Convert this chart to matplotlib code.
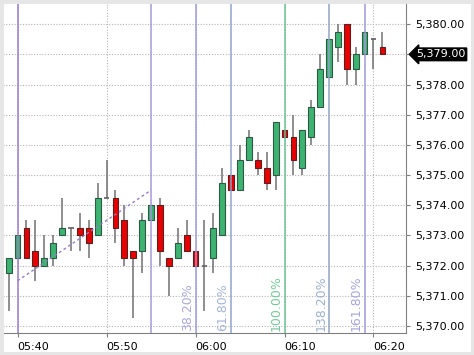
import numpy as np
import matplotlib
matplotlib.use("Agg")
import matplotlib.pyplot as plt
import matplotlib.transforms as mtransforms
from matplotlib.patches import Rectangle

# one-minute candles, 05:39 .. 06:21
times = ["05:39", "05:40", "05:41", "05:42", "05:43", "05:44", "05:45", "05:46", "05:47", "05:48",
         "05:49", "05:50", "05:51", "05:52", "05:53", "05:54", "05:55", "05:56", "05:57", "05:58",
         "05:59", "06:00", "06:01", "06:02", "06:03", "06:04", "06:05", "06:06", "06:07", "06:08",
         "06:09", "06:10", "06:11", "06:12", "06:13", "06:14", "06:15", "06:16", "06:17", "06:18",
         "06:19", "06:20", "06:21"]
opens = [5371.75, 5372.25, 5373.25, 5372.5, 5372.0, 5372.25, 5373.0, 5373.25, 5373.25, 5373.25,
         5373.0, 5374.25, 5374.25, 5373.5, 5372.5, 5372.5, 5373.5, 5374.0, 5372.25, 5372.25,
         5373.0, 5372.5, 5372.0, 5372.25, 5373.0, 5375.0, 5374.5, 5375.5, 5375.5, 5375.25,
         5375.0, 5376.5, 5376.25, 5375.25, 5376.25, 5377.25, 5378.25, 5379.25, 5380.0, 5378.5,
         5379.0, 5379.5, 5379.25]
highs = [5372.25, 5373.0, 5373.5, 5373.5, 5373.0, 5373.0, 5374.25, 5373.25, 5373.75, 5373.5,
         5374.75, 5375.5, 5374.5, 5374.0, 5372.5, 5373.75, 5374.0, 5374.25, 5372.25, 5373.25,
         5373.5, 5372.5, 5373.5, 5373.75, 5375.25, 5375.0, 5376.0, 5376.5, 5375.75, 5375.75,
         5376.75, 5376.5, 5377.0, 5376.5, 5377.5, 5379.0, 5379.5, 5380.0, 5380.0, 5379.25,
         5379.75, 5379.5, 5379.75]
lows = [5370.5, 5372.25, 5372.25, 5371.5, 5372.0, 5372.0, 5373.0, 5372.5, 5372.5, 5372.25,
        5373.0, 5374.25, 5372.75, 5372.0, 5370.25, 5371.75, 5373.5, 5372.0, 5371.0, 5372.25,
        5372.5, 5372.0, 5370.5, 5371.75, 5373.0, 5374.5, 5374.5, 5375.5, 5375.0, 5374.5,
        5374.5, 5376.25, 5375.0, 5375.0, 5376.0, 5377.25, 5378.25, 5378.75, 5378.0, 5378.0,
        5379.0, 5378.5, 5379.0]
closes = [5372.25, 5373.0, 5372.25, 5372.0, 5372.25, 5372.75, 5373.25, 5373.25, 5373.0, 5372.75,
          5374.25, 5374.25, 5373.25, 5372.25, 5372.25, 5373.5, 5374.0, 5372.5, 5372.0, 5372.75,
          5372.5, 5372.0, 5372.0, 5373.25, 5374.75, 5374.5, 5375.5, 5376.25, 5375.25, 5374.75,
          5376.75, 5376.25, 5375.5, 5376.5, 5377.25, 5378.5, 5379.5, 5379.75, 5378.5, 5379.0,
          5379.75, 5379.5, 5379.0]

# fibonacci time zones
fib_times = ["05:40", "05:55", "06:00", "06:04", "06:10", "06:15", "06:19"]
fib_labels = ["", "", "38.20%", "61.80%", "100.00%", "138.20%", "161.80%"]
fib_colors = ["#9a7cc8", "#a497d8", "#9d9ad8", "#8ea2cc", "#6cc095", "#8ea3c4", "#9c98d6"]
fib_text_colors = ["#b0a0d8", "#b0a8e0", "#a8a8dc", "#a4b4d8", "#78c89a", "#9cb0cc", "#a8a4dc"]
trend_times = ["05:40", "05:55"]
trend_prices = [5371.5, 5374.5]

time_ticks = ["05:40", "05:50", "06:00", "06:10", "06:20"]
price_ticks = np.arange(5370, 5381, 1.0)
last_price = 5379.0

x = np.arange(len(times))
idx = {t: i for i, t in enumerate(times)}
o = np.array(opens); h = np.array(highs); l = np.array(lows); c = np.array(closes)

fig = plt.figure(figsize=(4.74, 3.55), dpi=100)
fig.patch.set_facecolor("white")
fig.add_artist(Rectangle((0, 0), 1, 1, transform=fig.transFigure, fill=False,
                         edgecolor="#e6e6e6", linewidth=5))
ax = fig.add_axes([0.0063, 0.062, 0.85, 0.9295])

ax.set_xlim(-0.64, 44.64)
ax.set_ylim(5369.77, 5380.7)

ax.grid(True, color="#b4b4b4", linestyle=(0, (1, 1.5)), linewidth=0.8)
ax.set_axisbelow(True)

# candles
up = c > o
dn = c < o
flat = c == o
ax.vlines(x, l, h, color="#707070", linewidth=1.1, zorder=2)
w = 0.65
ax.bar(x[up], (c - o)[up], bottom=o[up], width=w, color="#3cb371",
       edgecolor="#2e5a45", linewidth=0.8, zorder=3)
ax.bar(x[dn], (o - c)[dn], bottom=c[dn], width=w, color="#e80000",
       edgecolor="#5a2020", linewidth=0.8, zorder=3)
ax.hlines(c[flat], x[flat] - w / 2, x[flat] + w / 2, color="#606060", linewidth=1.2, zorder=3)

# fib time lines
for t, lab, col, tcol in zip(fib_times, fib_labels, fib_colors, fib_text_colors):
    xi = idx[t]
    ax.axvline(xi, color=col, linewidth=1.2, alpha=0.9, zorder=4)
    if lab:
        ax.text(xi - 0.2, 5369.85, lab, rotation=90, ha="right", va="bottom",
                color=tcol, fontsize=9)

ax.plot([idx[t] for t in trend_times], trend_prices, color="#9a7cc8",
        linestyle=(0, (2, 2)), linewidth=1.0, zorder=4)

# axes styling
for s in ["left", "top"]:
    ax.spines[s].set_visible(False)
for s in ["right", "bottom"]:
    ax.spines[s].set_color("#808080")
ax.yaxis.tick_right()
ax.set_yticks(price_ticks)
ax.set_yticklabels(["" if p == last_price else f"{p:,.2f}" for p in price_ticks])
ax.set_xticks([idx[t] for t in time_ticks])
ax.set_xticklabels(time_ticks, ha="left")
ax.tick_params(axis="both", labelsize=8, colors="#808080", labelcolor="black", length=3)
ax.tick_params(axis="y", pad=4)

trans = mtransforms.blended_transform_factory(ax.transAxes, ax.transData)
ax.text(1.025, last_price, f"{last_price:,.2f}", transform=trans, ha="left", va="center",
        color="white", fontsize=8,
        bbox=dict(boxstyle="larrow,pad=0.12", facecolor="black", edgecolor="black"))

fig.savefig("out.png", dpi=100)
